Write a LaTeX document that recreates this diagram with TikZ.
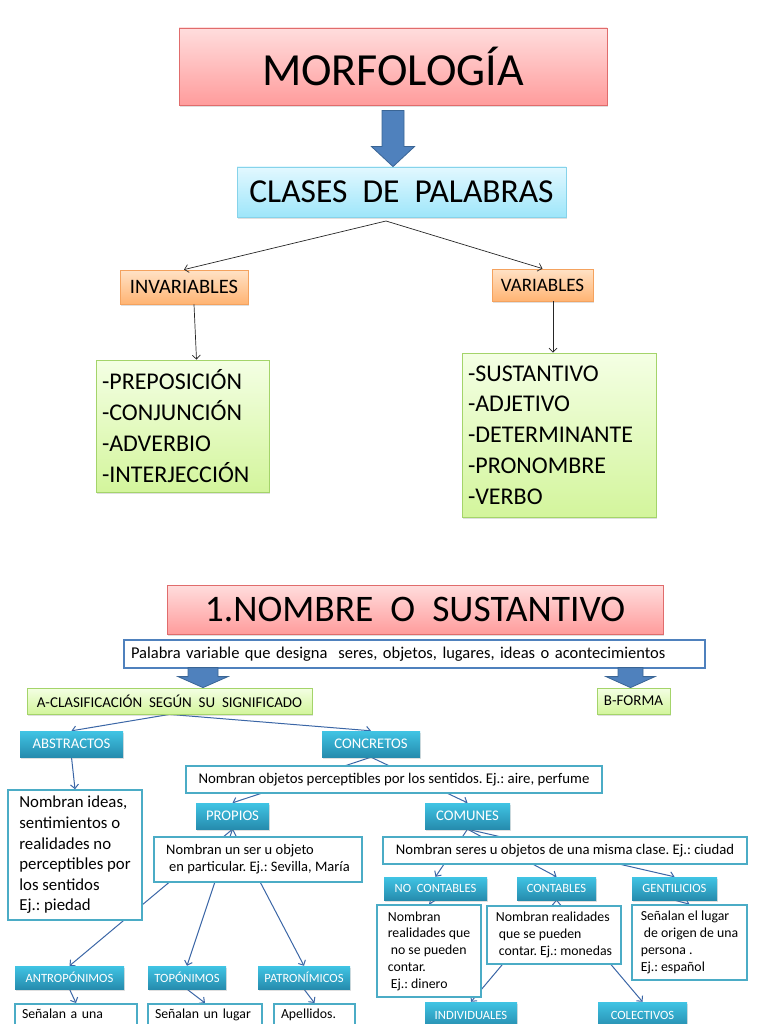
\documentclass[tikz,border=0pt]{standalone}
\usepackage{fontspec}
\setmainfont{Carlito}
\usepackage{tikz}
\usetikzlibrary{arrows.meta,calc,backgrounds,shadows}
\definecolor{titleedge}{HTML}{E06C6C}
\definecolor{titletop}{HTML}{FFDDDD}
\definecolor{titlebottom}{HTML}{FF9C9C}
\definecolor{skyedge}{HTML}{86D3EA}
\definecolor{skytop}{HTML}{E2F8FF}
\definecolor{skybottom}{HTML}{9EE6FA}
\definecolor{peachedge}{HTML}{F4A25E}
\definecolor{peachtop}{HTML}{FFE2C6}
\definecolor{peachbottom}{HTML}{FFB473}
\definecolor{limeedge}{HTML}{A4D46A}
\definecolor{limetop}{HTML}{F4FFE4}
\definecolor{limebottom}{HTML}{D3F59C}
\definecolor{tealtop}{HTML}{40C4E4}
\definecolor{tealbottom}{HTML}{268CAE}
\definecolor{tealedge}{HTML}{4BACC6}
\definecolor{blueedge}{HTML}{4F81BD}
\definecolor{arrowfill}{HTML}{4F81BD}
\definecolor{arrowedge}{HTML}{3A6595}
\definecolor{linkblue}{HTML}{3B66A6}
\newcommand{\fatarrow}[5]{\draw[blockarrow] (#1) -- ++(#3,-#4) -- ++({#2-#3},0)
  -- ++(0,-#5) -- ++({-2*#2},0) -- ++(0,#5) -- ++({#2-#3},0) -- cycle;}
\newcommand{\ind}{\hspace*{3pt}}
\frenchspacing
\hyphenpenalty=10000

\begin{document}
\begin{tikzpicture}[x=1pt,y=-1pt,
 softshadow/.style={drop shadow={shadow xshift=1.2pt,shadow yshift=-1.8pt,opacity=0.25}},
 title/.style={draw=titleedge,line width=0.8pt,top color=titletop,bottom color=titlebottom,
               softshadow,inner sep=0pt},
 sky/.style={draw=skyedge,line width=0.8pt,top color=skytop,bottom color=skybottom,
             softshadow,inner sep=0pt},
 peach/.style={draw=peachedge,line width=0.8pt,top color=peachtop,bottom color=peachbottom,
               softshadow,inner sep=0pt},
 lime/.style={draw=limeedge,line width=0.8pt,top color=limetop,bottom color=limebottom,
              softshadow,inner sep=0pt},
 list/.style={lime,align=left,inner xsep=6pt,font=\fontsize{24}{30.8}\selectfont},
 tag/.style={top color=tealtop,bottom color=tealbottom,text=white,softshadow,inner sep=0pt,
             minimum height=26pt,font=\fontsize{14.7}{16}\selectfont},
 smalltag/.style={tag,minimum height=23pt,font=\fontsize{12.6}{14}\selectfont},
 card/.style={draw=tealedge,line width=1.6pt,fill=white,align=left,inner xsep=7pt,
              inner ysep=0pt,font=\fontsize{13.8}{16.8}\selectfont},
 stem/.style={-{Straight Barb[length=4pt,width=8pt]},black!85,line width=0.7pt},
 link/.style={-{Straight Barb[length=4pt,width=8pt]},linkblue,line width=1pt},
 blockarrow/.style={fill=arrowfill,draw=arrowedge,line width=0.8pt}]
 \useasboundingbox (0,0) rectangle (768,1024);
 \clip (0,0) rectangle (768,1024);

 \node[title,minimum width=428pt,minimum height=77pt,font=\fontsize{46}{50}\selectfont]
   (morf) at (393,66.5) {MORFOLOGÍA};
 \node[sky,minimum width=329pt,minimum height=50pt,font=\fontsize{33.5}{36}\selectfont]
   (clases) at (401.5,192) {CLASES\ \ DE\ \ PALABRAS};
 \node[peach,minimum width=128pt,minimum height=34pt,font=\fontsize{20.5}{22}\selectfont]
   (inv) at (184,287) {INVARIABLES};
 \node[peach,minimum width=101pt,minimum height=32pt,font=\fontsize{19}{21}\selectfont]
   (var) at (542.5,285) {VARIABLES};
 \node[list,text width=161pt,minimum height=132pt] (listinv) at (182.5,426)
   {-PREPOSICIÓN\\-CONJUNCIÓN\\-ADVERBIO\\-INTERJECCIÓN};
 \node[list,text width=182pt,minimum height=164pt] (listvar) at (559,435)
   {-SUSTANTIVO\\-ADJETIVO\\-DETERMINANTE\\-PRONOMBRE\\-VERBO};

 \fatarrow{morf.south |- clases.north}{11}{21.5}{20}{36}
 \coordinate (split) at (386,221);
 \draw[stem] (split) -- (inv.north);
 \draw[stem] (split) -- (var.north);
 \draw[stem] ([xshift=10pt]inv.south) -- ([xshift=14pt]listinv.north);
 \draw[stem] ([xshift=10.5pt]var.south) -- ([xshift=-6pt]listvar.north);

 \node[title,minimum width=496pt,minimum height=49pt,font=\fontsize{37.5}{40}\selectfont]
   (nombre) at (415,609.5) {1.NOMBRE\ \ O\ \ SUSTANTIVO};
 \node[card,draw=blueedge,text width=567pt,minimum height=28pt,font=\fontsize{16.5}{18}\selectfont]
   (palabra) at (414.5,654)
   {Palabra variable que designa\ \ seres, objetos, lugares, ideas o acontecimientos};
 \node[lime,minimum width=285pt,minimum height=26pt,font=\fontsize{15}{16}\selectfont]
   (aclas) at (169.5,701) {A-CLASIFICACIÓN\ \ SEGÚN\ \ SU\ \ SIGNIFICADO};
 \node[lime,minimum width=73pt,minimum height=26pt,font=\fontsize{15}{16}\selectfont]
   (bforma) at (633.5,701) {B-FORMA};
 \coordinate (tipa) at ($(aclas.north)+(33.5,0)$);
 \coordinate (tipb) at ($(bforma.north)+(-3,0)$);
 \fatarrow{tipa}{15}{25}{11}{9}
 \fatarrow{tipb}{12.5}{24.5}{11}{9}

 \node[tag,minimum width=103pt] (abstr) at (71.5,744) {ABSTRACTOS};
 \node[tag,minimum width=98pt] (concr) at (371,744) {CONCRETOS};
 \node[card,minimum width=134pt,minimum height=130pt,font=\fontsize{16.8}{20.6}\selectfont]
   (abstrtxt) at (75,855)
   {Nombran ideas,\\sentimientos o\\realidades no\\perceptibles por\\los sentidos\\Ej.: piedad};
 \node[card,align=center,minimum width=416pt,minimum height=27pt,font=\fontsize{14.8}{16}\selectfont]
   (percep) at (394,779.5) {Nombran objetos perceptibles por los sentidos. Ej.: aire, perfume};
 \node[tag,minimum width=73pt] (propios) at (232.5,816) {PROPIOS};
 \node[tag,minimum width=85pt] (comunes) at (467.5,816) {COMUNES};
 \node[card,minimum width=208pt,minimum height=45pt,font=\fontsize{14.5}{17}\selectfont]
   (propiostxt) at (258,859.5)
   {Nombran un ser u objeto\\\ind en particular. Ej.: Sevilla, María};
 \node[card,align=center,minimum width=364pt,minimum height=27pt,font=\fontsize{14.7}{16}\selectfont]
   (comunestxt) at (565,850.5) {Nombran seres u objetos de una misma clase. Ej.: ciudad};
 \node[smalltag,minimum width=103pt] (nocont) at (435.5,888.5) {NO\ \ CONTABLES};
 \node[smalltag,minimum width=79pt] (cont) at (556.5,888.5) {CONTABLES};
 \node[smalltag,minimum width=85pt] (gent) at (674.5,888.5) {GENTILICIOS};
 \node[card,minimum width=104pt,minimum height=92pt] (nocontxt) at (429,951)
   {Nombran\\realidades que\\\ind no se pueden\\contar.\\\ind Ej.: dinero};
 \node[card,minimum width=134pt,minimum height=58pt] (contxt) at (554,935)
   {Nombran realidades\\\ind que se pueden\\\ind contar. Ej.: monedas};
 \node[card,minimum width=115pt,minimum height=75pt] (genttxt) at (689.5,942.5)
   {Señalan el lugar\\\ind de origen de una\\persona .\\Ej.: español};
 \node[smalltag,minimum width=109pt] (antro) at (69.5,977.5) {ANTROPÓNIMOS};
 \node[smalltag,minimum width=78pt] (topo) at (187,977.5) {TOPÓNIMOS};
 \node[smalltag,minimum width=92pt] (patro) at (304,977.5) {PATRONÍMICOS};
 \node[smalltag,minimum width=92pt,minimum height=26pt] (indiv) at (471,1015) {INDIVIDUALES};
 \node[smalltag,minimum width=89pt,minimum height=26pt] (colect) at (642.5,1015) {COLECTIVOS};
 \node[card,anchor=north,inner ysep=4pt,text width=108pt,text height=11pt,text depth=30pt]
   (antrotxt) at (76,1003) {Señalan a una};
 \node[card,anchor=north,inner ysep=4pt,text width=100pt,text height=11pt,text depth=30pt]
   (topotxt) at (205,1003) {Señalan un lugar};
 \node[card,anchor=north,inner ysep=4pt,text width=67pt,text height=11pt,text depth=30pt]
   (apetxt) at (314.5,1003) {Apellidos.};

 \begin{scope}[on background layer]
  \draw[link] (aclas.south) -- (abstr.north);
  \draw[link] (aclas.south) -- (concr.north);
  \draw[link] (abstr.south) -- (abstrtxt.north);
  \draw[link] (concr.south) -- (propios.north);
  \draw[link] (concr.south) -- (comunes.north);
  \draw[link] (propios.south) -- (antro.north);
  \draw[link] (propios.south) -- (topo.north);
  \draw[link] (propios.south) -- (patro.north);
  \draw[link] (comunes.south) -- (nocont.north);
  \draw[link] (comunes.south) -- (cont.north);
  \draw[link] (comunes.south) -- (gent.north);
  \draw[link] (nocont.south) -- (nocontxt.north);
  \draw[link] (gent.south) -- (genttxt.north);
  \draw[link] (cont.south) -- (indiv.north);
  \draw[link] (cont.south) -- (colect.north);
  \draw[link] (antro.south) -- (antrotxt.north);
  \draw[link] (topo.south) -- (topotxt.north);
  \draw[link] (patro.south) -- (apetxt.north);
 \end{scope}
\end{tikzpicture}
\end{document}
